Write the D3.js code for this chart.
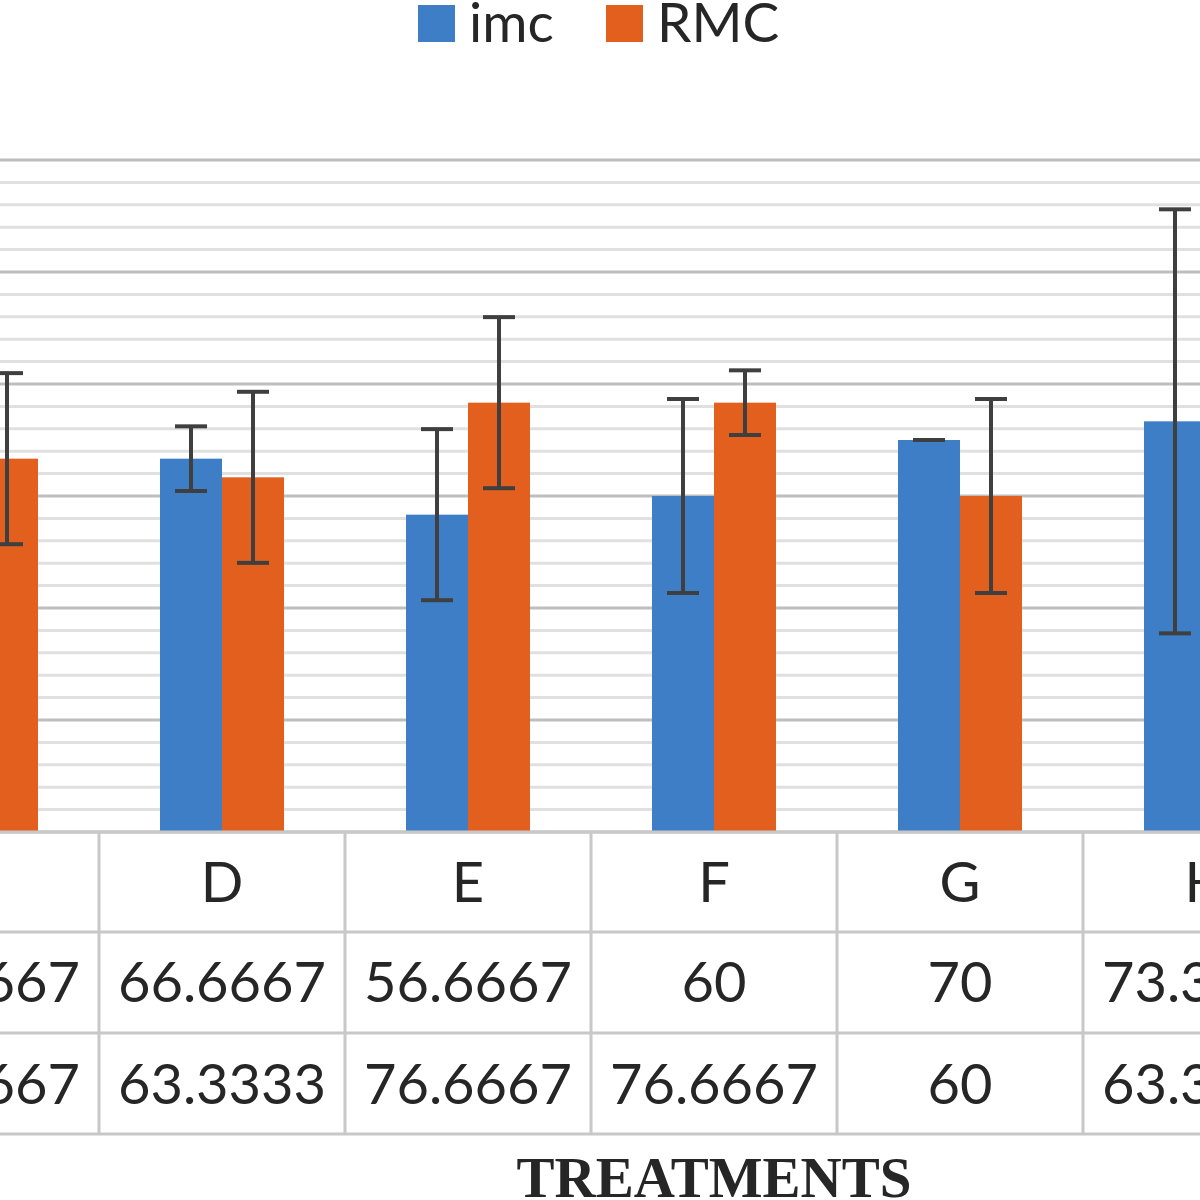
<!DOCTYPE html>
<html>
<head>
<meta charset="utf-8">
<script src="https://cdn.jsdelivr.net/npm/d3@7"></script>
<style>
  body { margin: 0; background: #ffffff; }
</style>
</head>
<body>
<div id="canvas"></div>
<script>
"use strict"

/* data (C and H are cut off at the edges) */
let categories = ["C", "D", "E", "F", "G", "H"];
let seriesNames = ["imc", "RMC"];
let imcValues = [66.6667, 66.6667, 56.6667, 60, 70, 73.3333];
let rmcValues = [66.6667, 63.3333, 76.6667, 76.6667, 60, 63.3333];
let imcErrors = [5.7735, 5.7735, 15.2753, 17.3205, 0, 37.8594];
let rmcErrors = [15.2753, 15.2753, 15.2753, 5.7735, 17.3205, 15.2753];
let majorTicks = [0, 20, 40, 60, 80, 100, 120];
let minorTicks = d3.range(0, 121, 4);

let colors = { imc: "#3e7ec7", RMC: "#e25f1e" };

let drawing = d3.select("#canvas")
    .append("svg")
    .attr("width", 1200)
    .attr("height", 1200);

/* scales - the plot is wider than the window, so the outer bands fall off the edges */
let x = d3.scaleBand()
    .domain(categories)
    .range([-147, -147 + 246 * categories.length]);

let y = d3.scaleLinear()
    .domain([0, 120])
    .range([832, 160]);

let barWidth = 62;

/* gridlines */
drawing.append("g")
    .selectAll("line")
    .data(minorTicks.filter(d => d % 20 !== 0))
    .join("line")
    .attr("x1", 0)
    .attr("x2", 1200)
    .attr("y1", d => y(d))
    .attr("y2", d => y(d))
    .attr("stroke", "#e0e0e0")
    .attr("stroke-width", 3);

drawing.append("g")
    .selectAll("line")
    .data(majorTicks)
    .join("line")
    .attr("x1", 0)
    .attr("x2", 1200)
    .attr("y1", d => y(d))
    .attr("y2", d => y(d))
    .attr("stroke", "#bebebe")
    .attr("stroke-width", 3);

/* bars */
let rows = categories.map((c, i) => ({
    cat: c,
    imc: imcValues[i], RMC: rmcValues[i],
    imcErr: imcErrors[i], RMCErr: rmcErrors[i]
}));

let groups = drawing.append("g")
    .selectAll("g")
    .data(rows)
    .join("g")
    .attr("transform", d => "translate(" + (x(d.cat) + x.bandwidth() / 2) + ",0)");

seriesNames.forEach((s, k) => {
    let offset = k === 0 ? -barWidth : 0;
    groups.append("rect")
        .attr("x", offset)
        .attr("width", barWidth)
        .attr("y", d => y(d[s]))
        .attr("height", d => y(0) - y(d[s]))
        .attr("fill", colors[s]);
});

/* error bars */
seriesNames.forEach((s, k) => {
    let cx = k === 0 ? -barWidth / 2 : barWidth / 2;
    let err = groups.append("g").attr("stroke", "#3f3f3f").attr("stroke-width", 4);
    err.append("line")
        .attr("x1", cx).attr("x2", cx)
        .attr("y1", d => y(d[s] + d[s + "Err"]))
        .attr("y2", d => y(d[s] - d[s + "Err"]));
    err.append("line")
        .attr("x1", cx - 16).attr("x2", cx + 16)
        .attr("y1", d => y(d[s] + d[s + "Err"]))
        .attr("y2", d => y(d[s] + d[s + "Err"]));
    err.append("line")
        .attr("x1", cx - 16).attr("x2", cx + 16)
        .attr("y1", d => y(d[s] - d[s + "Err"]))
        .attr("y2", d => y(d[s] - d[s + "Err"]));
});

/* data table under the plot */
let tableLines = [832, 932, 1033, 1134];
let table = drawing.append("g");

table.selectAll("line.h")
    .data(tableLines)
    .join("line")
    .attr("class", "h")
    .attr("x1", 0).attr("x2", 1200)
    .attr("y1", d => d).attr("y2", d => d)
    .attr("stroke", "#c8c8c8")
    .attr("stroke-width", 3);

table.selectAll("line.v")
    .data(categories)
    .join("line")
    .attr("class", "v")
    .attr("x1", d => x(d) + x.bandwidth())
    .attr("x2", d => x(d) + x.bandwidth())
    .attr("y1", 832).attr("y2", 1134)
    .attr("stroke", "#c8c8c8")
    .attr("stroke-width", 3);

let tableFont = "Lato, 'Open Sans', sans-serif";

table.selectAll("text.cat")
    .data(categories)
    .join("text")
    .attr("class", "cat")
    .attr("x", d => x(d) + x.bandwidth() / 2)
    .attr("y", 902)
    .attr("text-anchor", "middle")
    .attr("font-family", tableFont)
    .attr("font-size", 56)
    .attr("fill", "#262626")
    .text(d => d);

[imcValues, rmcValues].forEach((vals, r) => {
    table.selectAll("text.row" + r)
        .data(vals)
        .join("text")
        .attr("class", "row" + r)
        .attr("x", (d, i) => x(categories[i]) + x.bandwidth() / 2)
        .attr("y", 1002 + r * 102)
        .attr("text-anchor", "middle")
        .attr("font-family", tableFont)
        .attr("font-size", 56)
        .attr("fill", "#262626")
        .text(d => String(d));
});

/* axis title */
drawing.append("text")
    .attr("x", x("F") + x.bandwidth() / 2)
    .attr("y", 1197)
    .attr("text-anchor", "middle")
    .attr("font-family", "'Liberation Serif', 'Times New Roman', serif")
    .attr("font-weight", "bold")
    .attr("font-size", 57)
    .attr("fill", "#262626")
    .text("TREATMENTS");

/* legend */
let legendX = [418, 606];
let legend = drawing.append("g");
seriesNames.forEach((s, k) => {
    legend.append("rect")
        .attr("x", legendX[k])
        .attr("y", 5)
        .attr("width", 37)
        .attr("height", 37)
        .attr("fill", colors[s]);
    legend.append("text")
        .attr("x", legendX[k] + 51)
        .attr("y", 42)
        .attr("font-family", tableFont)
        .attr("font-size", 55)
        .attr("fill", "#262626")
        .text(s);
});
</script>
</body>
</html>
